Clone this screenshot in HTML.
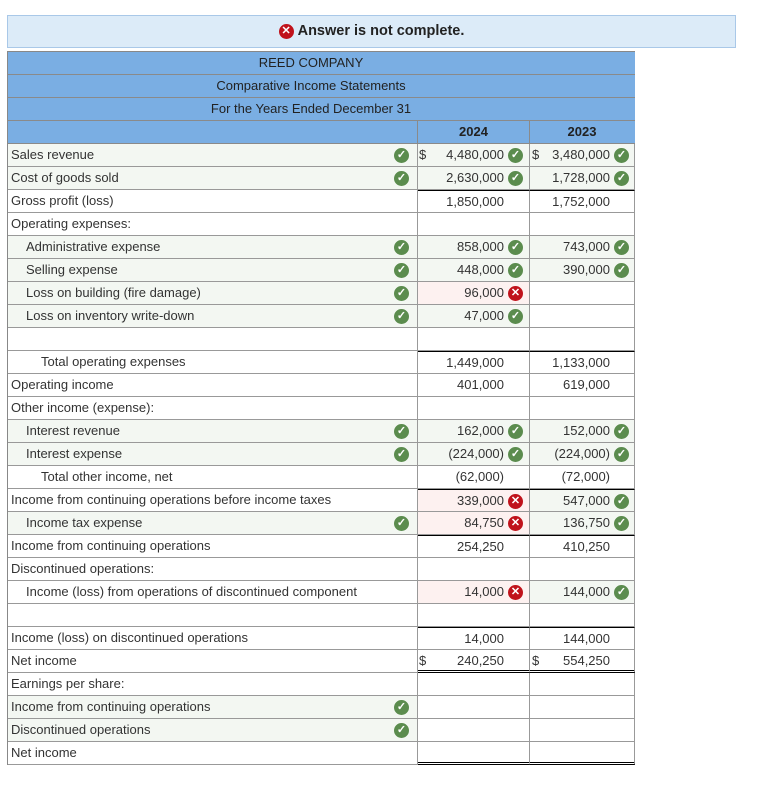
<!DOCTYPE html>
<html><head><meta charset="utf-8"><style>
body{margin:0;width:758px;height:791px;background:#fff;font-family:"Liberation Sans",Arial,sans-serif;font-size:13px;color:#333;position:relative;overflow:hidden}
.a{position:absolute;box-sizing:border-box}
.banner{left:7px;top:15px;width:729px;height:33px;background:#dcebf8;border:1px solid #a9c8e8;text-align:center;font-weight:bold;font-size:14.5px;line-height:31px;color:#222}
.hd{background:#7aaee3;border-bottom:1px solid #8a8a8a;text-align:center;color:#222;line-height:22px}
.cell{border-right:1px solid #999;border-bottom:1px solid #999;line-height:22px;white-space:nowrap}
.ic{display:inline-block;width:15px;height:15px;border-radius:50%;color:#fff;font-size:11px;line-height:15px;text-align:center;font-weight:bold;position:absolute;top:4px}
.ok{background:#5b8c4e}.no{background:#c0121b}
</style></head><body>
<div class="a banner"><span style="display:inline-block;width:15px;height:15px;border-radius:50%;background:#c0121b;color:#fff;font-size:11px;line-height:15px;vertical-align:1px;margin-right:4px">✕</span>Answer is not complete.</div>
<div id="t" class="a" style="left:7px;top:51px;width:628px;height:714px;border-left:1px solid #888;border-top:1px solid #888;border-right:1px solid #888"></div>
<script>
const rows=[
["Sales revenue",0,1,"4,480,000","ok","3,480,000","ok",1],
["Cost of goods sold",0,1,"2,630,000","ok","1,728,000","ok",0],
["Gross profit (loss)",0,0,"1,850,000","","1,752,000","",0],
["Operating expenses:",0,0,"","","","",0],
["Administrative expense",1,1,"858,000","ok","743,000","ok",0],
["Selling expense",1,1,"448,000","ok","390,000","ok",0],
["Loss on building (fire damage)",1,1,"96,000","no","","",0],
["Loss on inventory write-down",1,1,"47,000","ok","","",0],
["",0,0,"","","","",0],
["Total operating expenses",2,0,"1,449,000","","1,133,000","",0],
["Operating income",0,0,"401,000","","619,000","",0],
["Other income (expense):",0,0,"","","","",0],
["Interest revenue",1,1,"162,000","ok","152,000","ok",0],
["Interest expense",1,1,"(224,000)","ok","(224,000)","ok",0],
["Total other income, net",2,0,"(62,000)","","(72,000)","",0],
["Income from continuing operations before income taxes",0,0,"339,000","no","547,000","ok",0],
["Income tax expense",1,1,"84,750","no","136,750","ok",0],
["Income from continuing operations",0,0,"254,250","","410,250","",0],
["Discontinued operations:",0,0,"","","","",0],
["Income (loss) from operations of discontinued component",1,0,"14,000","no","144,000","ok",0],
["",0,0,"","","","",0],
["Income (loss) on discontinued operations",0,0,"14,000","","144,000","",0],
["Net income",0,0,"240,250","","554,250","",1],
["Earnings per share:",0,0,"","","","",0],
["Income from continuing operations",0,1,"","","","",0],
["Discontinued operations",0,1,"","","","",0],
["Net income",0,0,"","","","",0]
];
const blackTop=[2,9,15,17,21];
const dbl=[22,26];
const headers=["REED COMPANY","Comparative Income Statements","For the Years Ended December 31"];
const t=document.getElementById('t');
function mk(cls,x,y,w,h,html){const d=document.createElement('div');d.className='a '+cls;d.style.left=x+'px';d.style.top=y+'px';d.style.width=w+'px';d.style.height=h+'px';if(html!==undefined)d.innerHTML=html;t.appendChild(d);return d;}
headers.forEach((h,i)=>{const d=mk('hd',0,i*23,627,23,'<span style="position:absolute;left:0;width:606px;text-align:center">'+h+'</span>');

});
const yh=mk('hd',0,69,627,23,'');


[[409,112,'2024'],[521,105,'2023']].forEach(c=>{const d=mk('',c[0],69,c[1],23,c[2]);d.style.borderLeft='1px solid #8a8a8a';d.style.textAlign='center';d.style.lineHeight='22px';d.style.fontWeight='bold';d.style.color='#222';

});
const icon=s=>s?'<span class="ic '+s+'">'+(s=='ok'?'✓':'✕')+'</span>':'';
rows.forEach((r,i)=>{
 const y=92+i*23;
 const lab=mk('cell',0,y,410,23,'');
 if(r[2])lab.style.background='#f3f7f2';
 lab.innerHTML='<span style="position:absolute;left:'+(3+r[1]*15)+'px">'+r[0]+'</span>'+(r[2]?'<span class="ic ok" style="left:386px">✓</span>':'');
 
 
 [[410,112,r[3],r[4]],[522,105,r[5],r[6]]].forEach((c,k)=>{
  const d=mk('cell',c[0],y,c[1],23,'');
  if(c[3]=='no')d.style.background='#fdf1f0';else if(c[3]=='ok')d.style.background='#f3f7f2';
  let h='';
  if(r[7])h+='<span style="position:absolute;left:'+(k?2:1)+'px">$</span>';
  h+='<span style="position:absolute;right:'+(k?24:25)+'px">'+c[2]+'</span>';
  if(c[3])h+=icon(c[3]).replace('class="ic','style="right:'+(k?5:6)+'px" class="ic');
  d.innerHTML=h;
  if(blackTop.includes(i))d.style.borderTop='1px solid #000';
  if(dbl.includes(i))d.style.borderBottom='3px double #000';
  
  
 });
});
</script>
</body></html>
